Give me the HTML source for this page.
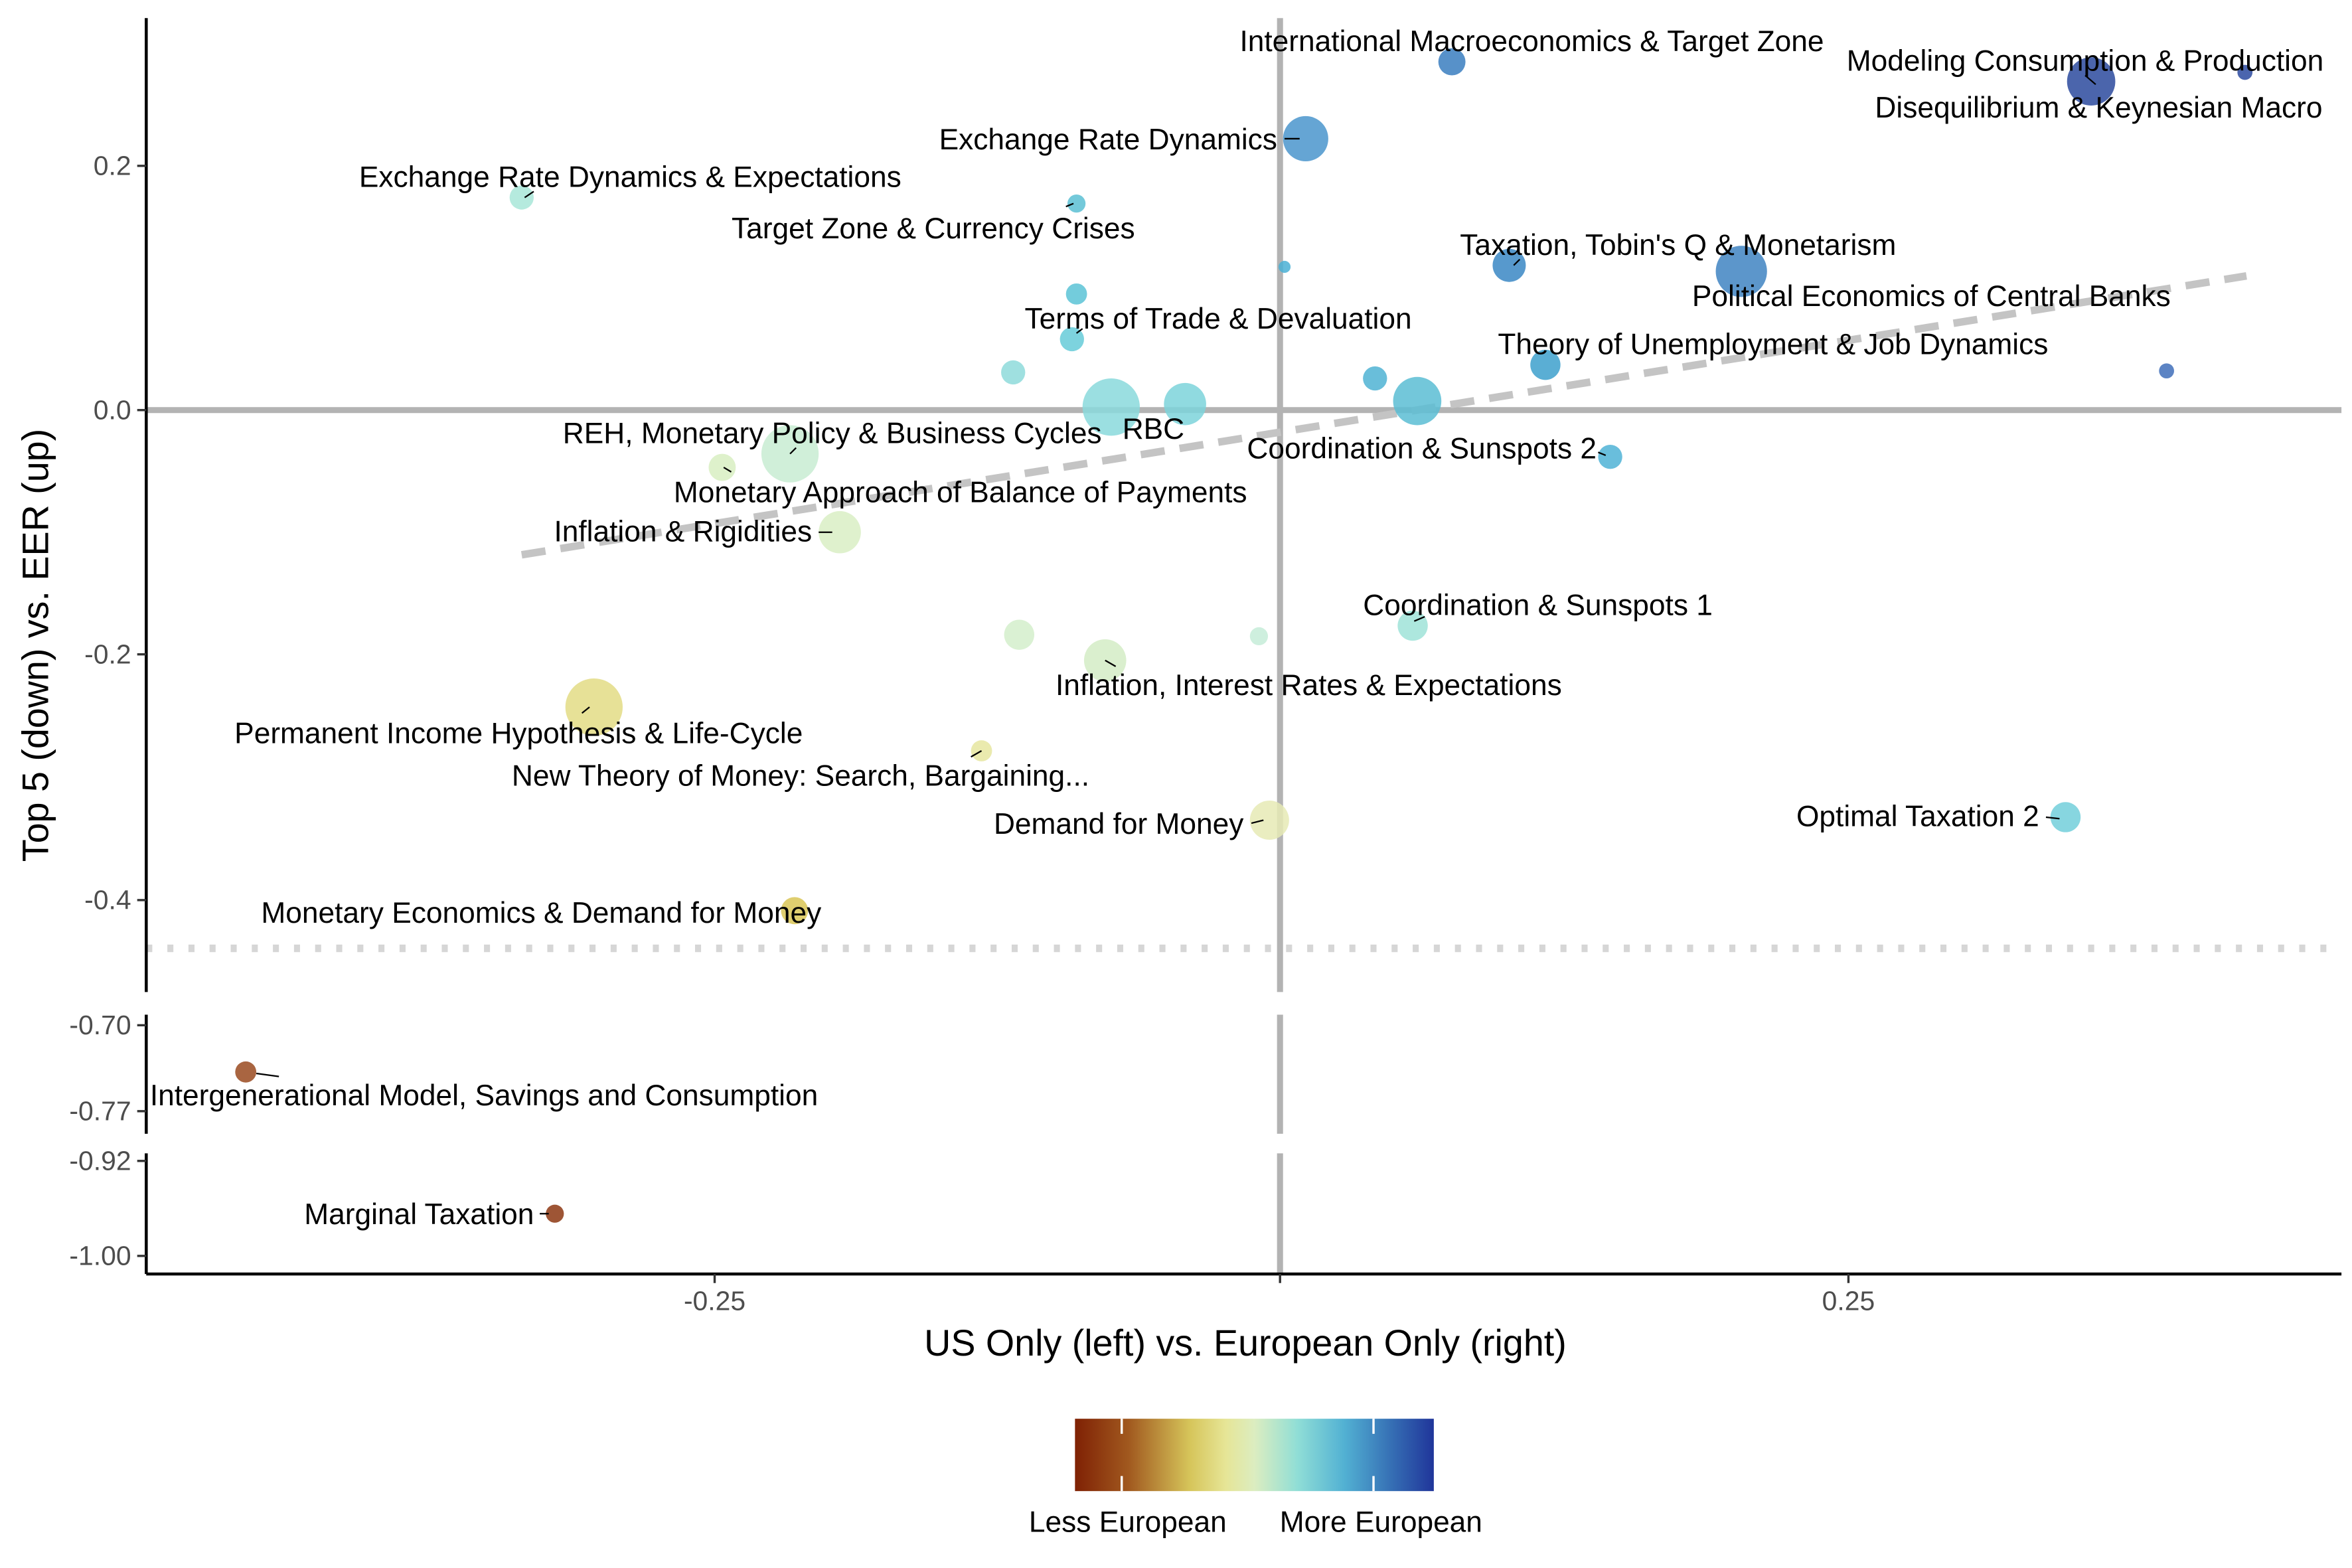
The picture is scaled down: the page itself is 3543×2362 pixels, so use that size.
<!DOCTYPE html>
<html><head><meta charset="utf-8"><style>html,body{margin:0;padding:0;background:#fff}svg{display:block}text{font-family:"Liberation Sans",sans-serif}</style></head>
<body>
<svg width="3543" height="2362" viewBox="0 0 1560 1040" xmlns="http://www.w3.org/2000/svg">
<defs>
<linearGradient id="cb" x1="0" x2="1" y1="0" y2="0">
<stop offset="0" stop-color="#7f2104"/><stop offset="0.15" stop-color="#a1591f"/><stop offset="0.32" stop-color="#d6c55a"/><stop offset="0.42" stop-color="#e6e596"/><stop offset="0.5" stop-color="#dcedc0"/><stop offset="0.62" stop-color="#90ded6"/><stop offset="0.75" stop-color="#52b1d3"/><stop offset="0.88" stop-color="#3670b5"/><stop offset="1" stop-color="#20359a"/>
</linearGradient>
</defs>
<rect width="1560" height="1040" fill="#fff"/>
<g stroke="#b3b3b3" stroke-width="4" fill="none">
<line x1="849" y1="12" x2="849" y2="658"/>
<line x1="849" y1="673" x2="849" y2="752"/>
<line x1="849" y1="765" x2="849" y2="845"/>
<line x1="97" y1="272" x2="1553" y2="272"/>
<line x1="346" y1="368" x2="1490" y2="183" stroke="#c4c4c4" stroke-dasharray="16,10" stroke-width="5"/>
<line x1="97" y1="629" x2="1553" y2="629" stroke="#d6d6d6" stroke-dasharray="4,10" stroke-width="5"/>
</g>
<g fill-opacity="0.85">
<circle cx="1387" cy="54" r="16" fill="#2c4a9e"/>
<circle cx="1489" cy="48" r="5" fill="#2b4aa0"/>
<circle cx="963" cy="41" r="9" fill="#3a7ebf"/>
<circle cx="866" cy="92" r="15" fill="#4a95cc"/>
<circle cx="346" cy="131" r="8" fill="#a8e6d8"/>
<circle cx="714" cy="135" r="6" fill="#5bbfd4"/>
<circle cx="852" cy="177" r="4" fill="#4ab0d5"/>
<circle cx="1001" cy="176" r="11" fill="#3a87c4"/>
<circle cx="1155" cy="180" r="17" fill="#3f84c2"/>
<circle cx="714" cy="195" r="7" fill="#5bc3d6"/>
<circle cx="711" cy="225" r="8" fill="#66cbd8"/>
<circle cx="672" cy="247" r="8" fill="#8edbdb"/>
<circle cx="1025" cy="242" r="10" fill="#3da0cc"/>
<circle cx="912" cy="251" r="8" fill="#4fb3d3"/>
<circle cx="1437" cy="246" r="5" fill="#3f6fba"/>
<circle cx="737" cy="270" r="19" fill="#8ad9dc"/>
<circle cx="786" cy="268" r="14" fill="#7dd3db"/>
<circle cx="940" cy="266" r="16" fill="#5bbdd4"/>
<circle cx="524" cy="301" r="19" fill="#c8ecd2"/>
<circle cx="479" cy="310" r="9" fill="#d8efc2"/>
<circle cx="1068" cy="303" r="8" fill="#4fb3d6"/>
<circle cx="557" cy="353" r="14" fill="#d9efc4"/>
<circle cx="676" cy="421" r="10" fill="#d3efcb"/>
<circle cx="835" cy="422" r="6" fill="#c6ecd8"/>
<circle cx="937" cy="415" r="10" fill="#9fe3d8"/>
<circle cx="733" cy="438" r="14" fill="#d3ecc5"/>
<circle cx="394" cy="469" r="19" fill="#e3dc85"/>
<circle cx="651" cy="498" r="7" fill="#e6e6a0"/>
<circle cx="842" cy="544" r="13" fill="#e6eab5"/>
<circle cx="1370" cy="542" r="10" fill="#72cfda"/>
<circle cx="527" cy="604" r="9" fill="#d9c656"/>
<circle cx="163" cy="711" r="7" fill="#9a4a20"/>
<circle cx="368" cy="805" r="6" fill="#8d3712"/>
</g>
<g font-size="19.5" fill="#000" text-anchor="middle">
<text x="1016" y="34">International Macroeconomics &amp; Target Zone</text>
<text x="1383" y="47">Modeling Consumption &amp; Production</text>
<text x="1392" y="78">Disequilibrium &amp; Keynesian Macro</text>
<text x="735" y="99">Exchange Rate Dynamics</text>
<text x="418" y="124">Exchange Rate Dynamics &amp; Expectations</text>
<text x="619" y="158">Target Zone &amp; Currency Crises</text>
<text x="1113" y="169">Taxation, Tobin's Q &amp; Monetarism</text>
<text x="1281" y="203">Political Economics of Central Banks</text>
<text x="808" y="218">Terms of Trade &amp; Devaluation</text>
<text x="1176" y="235">Theory of Unemployment &amp; Job Dynamics</text>
<text x="765" y="291">RBC</text>
<text x="552" y="294">REH, Monetary Policy &amp; Business Cycles</text>
<text x="943" y="304">Coordination &amp; Sunspots 2</text>
<text x="637" y="333">Monetary Approach of Balance of Payments</text>
<text x="453" y="359">Inflation &amp; Rigidities</text>
<text x="1020" y="408">Coordination &amp; Sunspots 1</text>
<text x="868" y="461">Inflation, Interest Rates &amp; Expectations</text>
<text x="344" y="493">Permanent Income Hypothesis &amp; Life-Cycle</text>
<text x="531" y="521">New Theory of Money: Search, Bargaining...</text>
<text x="742" y="553">Demand for Money</text>
<text x="1272" y="548">Optimal Taxation 2</text>
<text x="359" y="612">Monetary Economics &amp; Demand for Money</text>
<text x="321" y="733">Intergenerational Model, Savings and Consumption</text>
<text x="278" y="812">Marginal Taxation</text>
</g>
<g stroke="#000" stroke-width="1" fill="none">
<line x1="1383" y1="50" x2="1390" y2="56"/><line x1="852" y1="92" x2="862" y2="92"/><line x1="348" y1="131" x2="354" y2="127"/>
<line x1="707" y1="137" x2="712" y2="135"/><line x1="1004" y1="176" x2="1008" y2="172"/><line x1="714" y1="221" x2="718" y2="218"/>
<line x1="524" y1="301" x2="528" y2="297"/><line x1="480" y1="310" x2="485" y2="313"/><line x1="543" y1="353" x2="552" y2="353"/>
<line x1="733" y1="438" x2="740" y2="442"/><line x1="386" y1="473" x2="391" y2="469"/><line x1="644" y1="502" x2="651" y2="498"/>
<line x1="830" y1="546" x2="838" y2="544"/><line x1="1357" y1="542" x2="1366" y2="543"/><line x1="170" y1="712" x2="185" y2="714"/>
<line x1="358" y1="805" x2="364" y2="805"/><line x1="1060" y1="300" x2="1065" y2="302"/><line x1="938" y1="412" x2="945" y2="409"/>
</g>
<g stroke="#000" stroke-width="2" fill="none">
<line x1="97" y1="12" x2="97" y2="658"/>
<line x1="97" y1="673" x2="97" y2="752"/>
<line x1="97" y1="765" x2="97" y2="845"/>
<line x1="97" y1="845" x2="1553" y2="845"/>
</g>
<g stroke="#333" stroke-width="1.5">
<line x1="91" y1="110" x2="97" y2="110"/><line x1="91" y1="272" x2="97" y2="272"/><line x1="91" y1="434" x2="97" y2="434"/><line x1="91" y1="597" x2="97" y2="597"/>
<line x1="91" y1="680" x2="97" y2="680"/><line x1="91" y1="737" x2="97" y2="737"/>
<line x1="91" y1="770" x2="97" y2="770"/><line x1="91" y1="833" x2="97" y2="833"/>
<line x1="474" y1="845" x2="474" y2="851"/><line x1="849" y1="845" x2="849" y2="851"/><line x1="1226" y1="845" x2="1226" y2="851"/>
</g>
<g font-size="18" fill="#4d4d4d" text-anchor="end">
<text x="87" y="116">0.2</text><text x="87" y="278">0.0</text><text x="87" y="440">-0.2</text><text x="87" y="603">-0.4</text>
<text x="87" y="686">-0.70</text><text x="87" y="743">-0.77</text>
<text x="87" y="776">-0.92</text><text x="87" y="839">-1.00</text>
</g>
<g font-size="18" fill="#4d4d4d" text-anchor="middle">
<text x="474" y="869">-0.25</text><text x="1226" y="869">0.25</text>
</g>
<text x="826" y="899" font-size="24.5" text-anchor="middle">US Only (left) vs. European Only (right)</text>
<text transform="translate(32,428) rotate(-90)" font-size="24.5" text-anchor="middle">Top 5 (down) vs. EER (up)</text>
<rect x="713" y="941" width="238" height="48" fill="url(#cb)"/>
<g stroke="#fff" stroke-width="1.5">
<line x1="744" y1="941" x2="744" y2="951"/><line x1="744" y1="979" x2="744" y2="989"/>
<line x1="911" y1="941" x2="911" y2="951"/><line x1="911" y1="979" x2="911" y2="989"/>
</g>
<g font-size="19.5" text-anchor="middle">
<text x="748" y="1016">Less European</text><text x="916" y="1016">More European</text>
</g>
</svg>
</body></html>
